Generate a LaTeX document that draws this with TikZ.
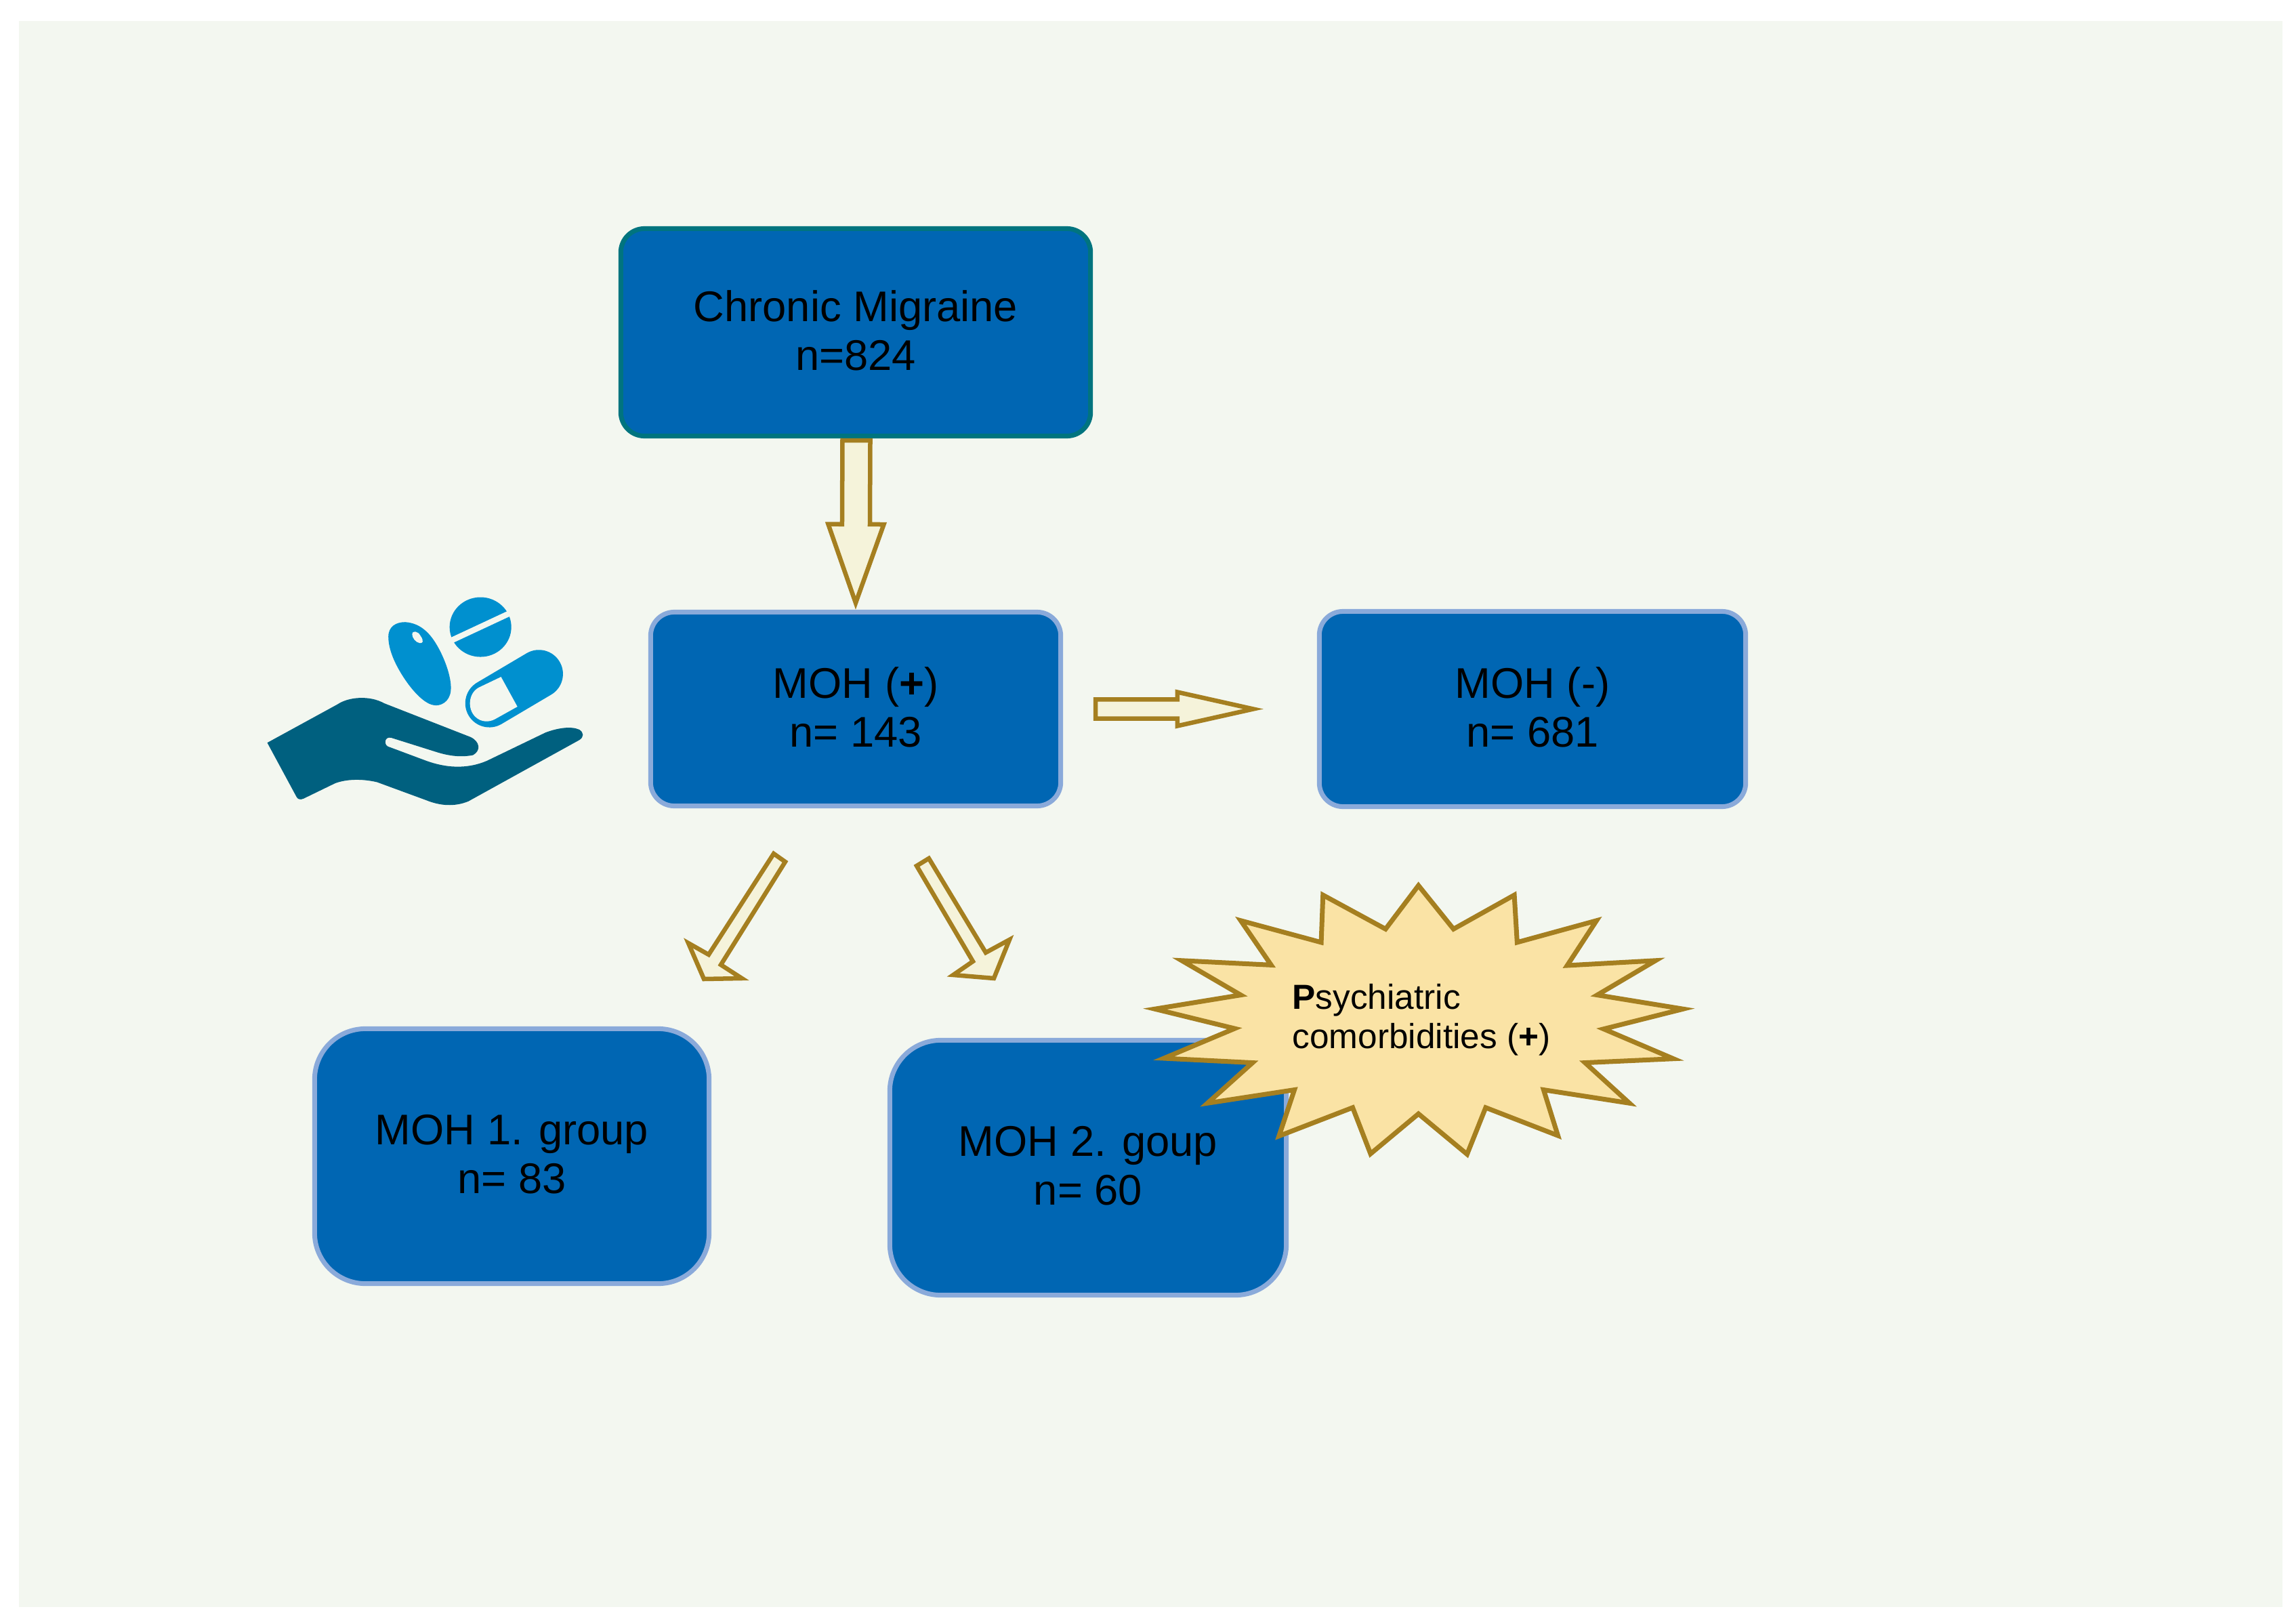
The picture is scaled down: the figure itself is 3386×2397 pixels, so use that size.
\documentclass[tikz,border=0pt]{standalone}
\usepackage{fontspec}
\setmainfont{Liberation Sans}
\usetikzlibrary{calc}
\definecolor{pagebg}{HTML}{F3F7F0}
\definecolor{boxfill}{HTML}{0066B3}
\definecolor{boxedge}{HTML}{8AAADA}
\definecolor{topedge}{HTML}{00747F}
\definecolor{arrowfill}{HTML}{F5F3DA}
\definecolor{arrowedge}{HTML}{A57F20}
\definecolor{starfill}{HTML}{FAE3A5}
\definecolor{pillblue}{HTML}{0090CF}
\definecolor{handblue}{HTML}{00607F}
\tikzset{
  bluebox/.style={draw=boxedge,fill=boxfill,line width=0.07cm,rounded corners=0.35cm,align=center,inner sep=0pt,
    font=\fontsize{18}{20.5}\selectfont,text=black},
  bigbox/.style={bluebox,rounded corners=0.75cm},
  blockarrow/.style={draw=arrowedge,fill=arrowfill,line width=0.065cm},
}
\newcommand{\lowstrut}{\rule[-1.8pt]{0pt}{1pt}}
\newcommand{\blockarrow}[5]{%
  \coordinate (hb) at ($(#2)!#5!(#1)$);
  \draw[blockarrow] ($(#1)!#3!90:(#2)$) -- ($(hb)!#3!90:(#2)$) -- ($(hb)!#4!90:(#2)$) -- (#2)
    -- ($(hb)!#4!-90:(#2)$) -- ($(hb)!#3!-90:(#2)$) -- ($(#1)!#3!-90:(#2)$) -- cycle;
}
\begin{document}
\begin{tikzpicture}[x=0.01cm,y=-0.01cm]
\useasboundingbox (0,0) rectangle (3386,2397);
\fill[white] (0,0) rectangle (3386,2397);
\fill[pagebg] (28,31) rectangle (3369,2372);

% boxes
\node[bluebox,draw=topedge,minimum width=6.93cm,minimum height=3.06cm] (chronic) at (1263,490.5) {Chronic Migraine\\n=824\lowstrut};
\node[bluebox,minimum width=6.05cm,minimum height=2.86cm] (mohp) at (1263,1046.5) {MOH (\textbf{+})\\n= 143\lowstrut};
\node[bluebox,minimum width=6.29cm,minimum height=2.88cm] (mohm) at (2262,1046.5) {MOH (-)\\n= 681\lowstrut};
\node[bigbox,minimum width=5.82cm,minimum height=3.76cm] (group1) at (755.5,1706.5) {MOH 1. group\\n= 83\lowstrut};
\node[bigbox,minimum width=5.85cm,minimum height=3.76cm] (group2) at (1606,1723.5) {MOH 2. goup\\n= 60\lowstrut};

% arrows
\coordinate (downa) at ($(chronic.south)+(1,3)$);
\coordinate (downb) at ($(mohp.north)+(0,-10)$);
\blockarrow{downa}{downb}{0.205cm}{0.41cm}{1.16cm}
\coordinate (righta) at ($(mohp.east)+(48,0)$);
\coordinate (rightb) at ($(mohm.west)+(-94,0)$);
\blockarrow{righta}{rightb}{0.14cm}{0.25cm}{1.12cm}

\coordinate (la1) at (1142,1260);
\coordinate (la2) at (1046,1409);
\coordinate (la3) at (1016,1392);
\coordinate (la4) at (1039,1445);
\coordinate (la5) at (1095,1444);
\coordinate (la6) at (1064,1424);
\coordinate (la7) at (1159,1272);
\draw[blockarrow] (la1) -- (la2) -- (la3) -- (la4) -- (la5) -- (la6) -- (la7) -- cycle;

\coordinate (ra1) at (1353,1278);
\coordinate (ra2) at (1371,1267);
\coordinate (ra3) at (1455,1406);
\coordinate (ra4) at (1490,1387);
\coordinate (ra5) at (1467,1444);
\coordinate (ra6) at (1407,1439);
\coordinate (ra7) at (1436,1419);
\draw[blockarrow] (ra1) -- (ra2) -- (ra3) -- (ra4) -- (ra5) -- (ra6) -- (ra7) -- cycle;

% burst
\begin{scope}[shift={(1680,1280)},x=0.005356cm,y=-0.003333cm,scale around={0.985:(772,680)}]
\draw[draw=arrowedge,fill=starfill,line width=0.07cm]
 (772,72) -- (870,268) -- (1040,115) -- (1048,328) -- (1270,230) -- (1188,432) -- (1435,410)
 -- (1272,565) -- (1512,628) -- (1290,718) -- (1485,852) -- (1238,870) -- (1362,1052)
 -- (1122,992) -- (1162,1198) -- (960,1072) -- (908,1282) -- (772,1100) -- (638,1280)
 -- (588,1072) -- (382,1200) -- (425,992) -- (182,1052) -- (308,870) -- (60,850)
 -- (258,716) -- (35,628) -- (275,565) -- (110,410) -- (360,430) -- (275,230)
 -- (500,328) -- (505,115) -- (680,268) -- cycle;
\end{scope}
\node[align=left,inner sep=0pt,font=\fontsize{14.6}{16.5}\selectfont] (psy) at (2098,1505) {\textbf{P}sychiatric\\comorbidities (\textbf{+})};

% hand and pills icon
\begin{scope}[shift={(360,840)},x=0.003444cm,y=-0.003333cm]
\fill[handblue] (100,770) -- (400,600) .. controls (450,565) and (540,560) .. (600,595)
 -- (970,745) .. controls (1010,765) and (1015,805) .. (980,825)
 .. controls (930,835) and (880,830) .. (820,810) -- (630,748)
 .. controls (600,740) and (595,785) .. (625,790) -- (780,850)
 .. controls (860,880) and (950,890) .. (1040,850) -- (1290,725)
 .. controls (1340,705) and (1400,695) .. (1435,712)
 .. controls (1455,725) and (1455,745) .. (1435,758) -- (960,1030)
 .. controls (900,1055) and (840,1050) .. (780,1025) -- (570,945)
 .. controls (510,930) and (440,930) .. (390,950) -- (255,1018)
 .. controls (240,1025) and (230,1020) .. (225,1010) -- cycle;
% oval pill
\fill[pillblue] (618,300) .. controls (618,255) and (650,235) .. (690,235)
 .. controls (760,240) and (800,290) .. (830,345)
 .. controls (865,410) and (890,490) .. (885,540)
 .. controls (880,590) and (840,610) .. (810,603)
 .. controls (770,595) and (720,540) .. (680,475)
 .. controls (640,410) and (618,350) .. (618,300) -- cycle;
\fill[pagebg] (720,290) .. controls (720,270) and (745,275) .. (755,295)
 .. controls (772,320) and (765,330) .. (752,328)
 .. controls (735,325) and (720,305) .. (720,290) -- cycle;
% round tablet
\fill[pillblue] (1012,257) circle [x radius=0.455cm,y radius=0.44cm];
\draw[pagebg,line width=0.085cm] (870,325) -- (1155,187);
% capsule
\draw[pillblue,line width=0.71cm,line cap=round] (1050,595) -- (1262,465);
\fill[pagebg] (1100,478) -- (1005,525) .. controls (960,550) and (955,620) .. (990,655)
 .. controls (1015,680) and (1050,680) .. (1075,665) -- (1170,610) -- cycle;
\end{scope}
\end{tikzpicture}
\end{document}
